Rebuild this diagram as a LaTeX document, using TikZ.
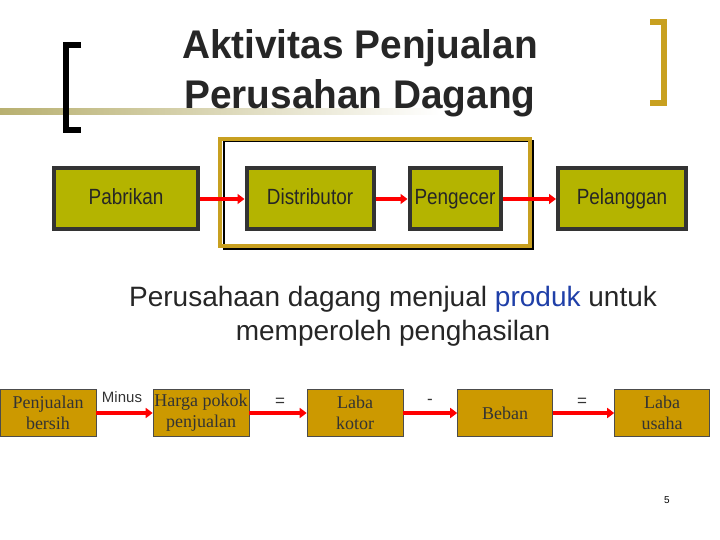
\documentclass[tikz,border=0pt]{standalone}
\usepackage{fontspec}
\setmainfont{Liberation Sans}
\newfontfamily\tnr{Liberation Serif}
\newfontfamily\narrow[FakeStretch=0.86]{Liberation Sans}
\usetikzlibrary{arrows.meta}
\definecolor{olivebox}{HTML}{B4B400}
\definecolor{goldbox}{HTML}{CC9900}
\definecolor{frame}{HTML}{C8A020}
\definecolor{gline}{HTML}{B8B070}
\definecolor{blu}{HTML}{1F3FA8}
\begin{document}
\begin{tikzpicture}[x=1pt,y=-1pt,
  topbox/.style={draw=black!80,line width=4pt,fill=olivebox,inner sep=0pt,font=\narrow\fontsize{22}{24}\selectfont,text=black!85,text height=15pt,text depth=3pt},
  botbox/.style={draw=black!70,line width=0.6pt,fill=goldbox,inner sep=0pt,align=center,font=\tnr\fontsize{18}{21}\selectfont,text=black!80},
  redarr/.style={draw=red,line width=4.5pt,-{Triangle[length=7pt,width=10pt]}},
  lbl/.style={font=\fontsize{17}{18}\selectfont,text=black!80}]
\useasboundingbox (0,0) rectangle (720,540);
% header line with fade
\shade[left color=gline,right color=white] (0,109) rectangle (440,115);
% brackets
\draw[line width=6pt,black] (81,45) -- (66,45) -- (66,130) -- (81,130);
\draw[line width=6pt,frame] (650,22) -- (664,22) -- (664,103) -- (650,103);
% title
\node[font=\bfseries\fontsize{40}{50}\selectfont,align=center,text=black!85,xscale=0.97] (title) at (360,73) {Aktivitas Penjualan\\Perusahan Dagang};
% frame around distributor/pengecer
\draw[line width=1.5pt,black] (224,141) rectangle (533,249);
\draw[line width=4pt,frame] (220,139) rectangle (530,246);
% top boxes
\node[topbox,minimum width=144pt,minimum height=61pt] (pab) at (126,199) {Pabrikan};
\node[topbox,minimum width=127pt,minimum height=61pt] (dis) at (310,199) {Distributor};
\node[topbox,minimum width=91pt,minimum height=61pt] (pen) at (455,199) {Pengecer};
\node[topbox,minimum width=128pt,minimum height=61pt] (pel) at (622,199) {Pelanggan};
\draw[redarr] (pab.east) -- (dis.west);
\draw[redarr] (dis.east) -- (pen.west);
\draw[redarr] (pen.east) -- (pel.west);
% middle text
\node[font=\fontsize{28}{34}\selectfont,align=center,text=black!85] (mid) at (393,316) {Perusahaan dagang menjual \textcolor{blu}{produk} untuk\\memperoleh penghasilan};
% bottom row
\node[botbox,minimum width=96pt,minimum height=47pt] (pb) at (48,413) {Penjualan\\bersih};
\node[botbox,minimum width=96pt,minimum height=47pt] (hp) at (201,413) {Harga pokok\\penjualan};
\node[botbox,minimum width=96pt,minimum height=47pt] (lk) at (355,413) {Laba\\kotor};
\node[botbox,minimum width=95pt,minimum height=47pt] (bb) at (505,413) {Beban};
\node[botbox,minimum width=95pt,minimum height=47pt] (lu) at (662,413) {Laba\\usaha};
\draw[redarr] (pb.east) -- (hp.west);
\draw[redarr] (hp.east) -- (lk.west);
\draw[redarr] (lk.east) -- (bb.west);
\draw[redarr] (bb.east) -- (lu.west);
\node[font=\fontsize{15}{16}\selectfont,text=black!80] (minus) at (122,397) {Minus};
\node[lbl] (eq1) at (280,402) {=};
\node[lbl] (dash) at (430,402) {-};
\node[lbl] (eq2) at (582,402) {=};
\node[font=\fontsize{10}{12}\selectfont] (pg) at (667,500) {5};
\end{tikzpicture}
\end{document}
